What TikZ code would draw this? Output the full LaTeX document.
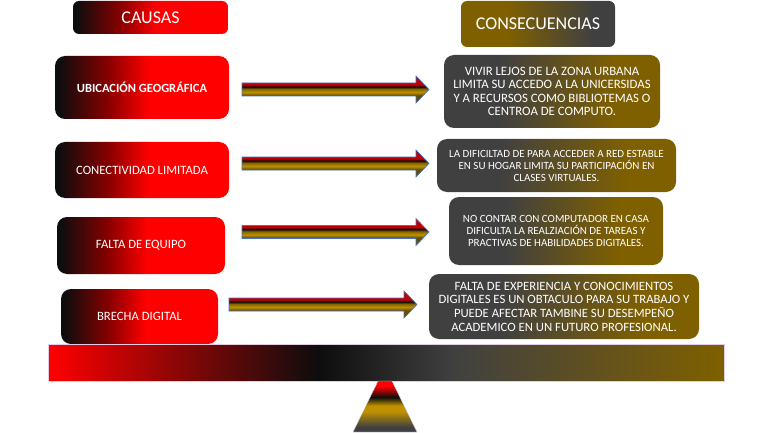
\documentclass[tikz,border=0pt]{standalone}
\usepackage{fontspec}
\setmainfont{Carlito}
\usetikzlibrary{calc}

\definecolor{rojo}{HTML}{FF0000}
\definecolor{negro}{HTML}{0D0D0D}
\definecolor{gris}{HTML}{404040}
\definecolor{oliva}{HTML}{7F6000}
\definecolor{oro}{HTML}{BF9000}
\definecolor{vino}{HTML}{C00000}
\definecolor{borde}{HTML}{4472C4}

\pgfdeclarehorizontalshading{causa}{100bp}{color(0bp)=(negro); color(26bp)=(negro); color(40bp)=(vino!70!black); color(52bp)=(rojo); color(100bp)=(rojo)}
\pgfdeclarehorizontalshading{efecto}{100bp}{color(0bp)=(gris); color(38bp)=(gris); color(65bp)=(oliva); color(100bp)=(oliva)}
\pgfdeclarehorizontalshading{titulodos}{100bp}{color(0bp)=(oliva); color(40bp)=(oliva); color(68bp)=(gris); color(100bp)=(gris)}
\pgfdeclarehorizontalshading{balanza}{100bp}{color(0bp)=(rojo); color(25bp)=(rojo); color(45bp)=(negro); color(55bp)=(gris); color(75bp)=(oliva); color(100bp)=(oliva)}
\pgfdeclareverticalshading{flecha}{100bp}{color(0bp)=(oliva!80!black); color(39bp)=(oliva!80!black); color(45bp)=(oro); color(51bp)=(oro!70!black); color(55bp)=(negro); color(59bp)=(vino); color(100bp)=(vino)}
\pgfdeclareverticalshading{base}{100bp}{color(0bp)=(gris); color(30bp)=(gris); color(45bp)=(oro); color(51bp)=(oro); color(59bp)=(negro); color(70bp)=(rojo); color(100bp)=(rojo)}

\tikzset{
  cajacausa/.style={rounded corners=10pt, shade, shading=causa, text=white, align=center, inner sep=0pt, font=\fontsize{12.7}{15}\selectfont},
  cajaefecto/.style={rounded corners=10pt, shade, shading=efecto, text=white, align=center, inner sep=0pt},
  flechaest/.style={draw=borde, line width=0.6pt, shade, shading=flecha}
}

\newcommand{\flecha}[2]{%
  \draw[flechaest] ($(#1)+(0,-6.5)$) -- ($(#2)+(-13,-6.5)$) -- ($(#2)+(-13,-13.5)$)
    -- (#2) -- ($(#2)+(-13,13.5)$) -- ($(#2)+(-13,6.5)$) -- ($(#1)+(0,6.5)$) -- cycle;}

\begin{document}
\begin{tikzpicture}[x=1pt,y=-1pt]
  \useasboundingbox (0,0) rectangle (768,433);

  % titulos
  \node[cajacausa, rounded corners=6pt, minimum width=155pt, minimum height=33pt, font=\fontsize{18}{21}\selectfont] (causas) at (150.5,17.5) {CAUSAS};
  \node[cajaefecto, rounded corners=6pt, shading=titulodos, minimum width=154pt, minimum height=46pt, font=\fontsize{18}{21}\selectfont] (consec) at (538,24) {CONSECUENCIAS};

  % causas
  \node[cajacausa, minimum width=174pt, minimum height=63pt, font=\fontsize{12.5}{15}\bfseries] (ubic) at (142,87.5) {UBICACIÓN GEOGRÁFICA};
  \node[cajacausa, minimum width=174pt, minimum height=56pt] (conec) at (142,170) {CONECTIVIDAD LIMITADA};
  \node[cajacausa, minimum width=168pt, minimum height=57pt] (equipo) at (141,245.5) {FALTA DE EQUIPO};
  \node[cajacausa, minimum width=157pt, minimum height=55pt] (brecha) at (139.5,316.5) {BRECHA DIGITAL};

  % consecuencias
  \node[cajaefecto, minimum width=216pt, minimum height=73pt, font=\fontsize{12.8}{13.5}\selectfont] (lejos) at (552,91.5)
    {VIVIR LEJOS DE LA ZONA URBANA\\LIMITA SU ACCEDO A LA UNICERSIDAS\\Y A RECURSOS COMO BIBLIOTEMAS O\\CENTROA DE COMPUTO.};
  \node[cajaefecto, minimum width=239pt, minimum height=53pt, font=\fontsize{11}{12}\selectfont] (red) at (556.5,165.5)
    {LA DIFICILTAD DE PARA ACCEDER A RED ESTABLE\\EN SU HOGAR LIMITA SU PARTICIPACIÓN EN\\CLASES VIRTUALES.};
  \node[cajaefecto, minimum width=214pt, minimum height=68pt, font=\fontsize{11}{12}\selectfont] (tareas) at (556,231)
    {NO CONTAR CON COMPUTADOR EN CASA\\DIFICULTA LA REALZIACIÓN DE TAREAS Y\\PRACTIVAS DE HABILIDADES DIGITALES.};
  \node[cajaefecto, minimum width=270pt, minimum height=65pt, font=\fontsize{12.7}{13.7}\selectfont] (experiencia) at (564,306.5)
    {FALTA DE EXPERIENCIA Y CONOCIMIENTOS\\DIGITALES ES UN OBTACULO PARA SU TRABAJO Y\\PUEDE AFECTAR TAMBINE SU DESEMPEÑO\\ACADEMICO EN UN FUTURO PROFESIONAL.};

  % flechas
  \coordinate (a1) at (242,89.5);  \coordinate (b1) at (429,89.5);
  \coordinate (a2) at (242,163.5); \coordinate (b2) at (429,163.5);
  \coordinate (a3) at (242,232);   \coordinate (b3) at (429,232);
  \coordinate (a4) at (229,304.5); \coordinate (b4) at (417,304.5);
  \flecha{a1}{b1}
  \flecha{a2}{b2}
  \flecha{a3}{b3}
  \flecha{a4}{b4}

  % balanza
  \draw[draw=violet!20, line width=0.5pt, shade, shading=balanza] (48,344) rectangle (724,381);
  \draw[draw=borde!25, line width=0.4pt, shade, shading=base] (378,381) -- (392,381) -- (417,432) -- (353,432) -- cycle;
\end{tikzpicture}
\end{document}
